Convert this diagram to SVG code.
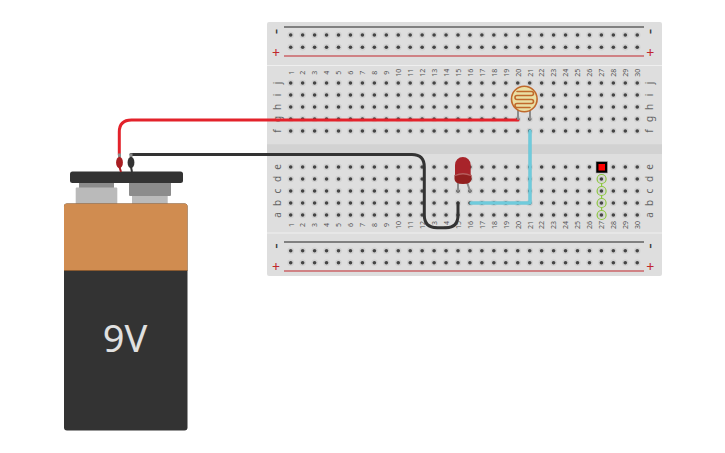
<svg xmlns="http://www.w3.org/2000/svg" width="725" height="453" viewBox="0 0 725 453">
<style>
text{font-family:"Noto Sans","DejaVu Sans",sans-serif}
.n{font-size:7px;fill:#555;text-anchor:middle}
.l{font-size:10px;fill:#666;text-anchor:middle}
.m{font-size:17px;fill:#333;text-anchor:middle}
.p{font-size:14px;fill:#c1272d;text-anchor:middle}
.w{fill:none;stroke-linecap:round;stroke-linejoin:round}
.g{fill:none;stroke:#8cc63f;stroke-width:1.2}
.leg{stroke:#8c8c8c;stroke-width:2;fill:none;stroke-linecap:round}
</style>
<defs>
<g id="h"><circle r="3.2" fill="#d0d0d0"/><circle r="1.8" fill="#444"/></g>
<g id="r">
<use href="#h" x="290.7"/><use href="#h" x="302.65"/><use href="#h" x="314.6"/><use href="#h" x="326.55"/><use href="#h" x="338.5"/><use href="#h" x="350.45"/><use href="#h" x="362.4"/><use href="#h" x="374.35"/><use href="#h" x="386.3"/><use href="#h" x="398.25"/><use href="#h" x="410.2"/><use href="#h" x="422.15"/><use href="#h" x="434.1"/><use href="#h" x="446.05"/><use href="#h" x="458"/><use href="#h" x="469.95"/><use href="#h" x="481.9"/><use href="#h" x="493.85"/><use href="#h" x="505.8"/><use href="#h" x="517.75"/><use href="#h" x="529.7"/><use href="#h" x="541.65"/><use href="#h" x="553.6"/><use href="#h" x="565.55"/><use href="#h" x="577.5"/><use href="#h" x="589.45"/><use href="#h" x="601.4"/><use href="#h" x="613.35"/><use href="#h" x="625.3"/><use href="#h" x="637.25"/>
</g>
</defs>
<rect width="725" height="453" fill="#fff"/>
<g id="breadboard">
<rect x="267" y="22" width="395" height="254" rx="2" fill="#dedede"/>
<rect x="267" y="65" width="395" height="1" fill="#efefef"/>
<rect x="267" y="232.500" width="395" height="1" fill="#efefef"/>
<rect x="267" y="144.300" width="395" height="9.700" fill="#d2d2d2"/>
<path d="M284 27H644M284 242H644" stroke="#222" stroke-width="1" fill="none"/>
<path d="M284 56H644M284 271H644" stroke="#c1272d" stroke-width="1" fill="none"/>
<use href="#r" y="35"/><use href="#r" y="47.3"/>
<use href="#r" y="83"/><use href="#r" y="95"/><use href="#r" y="107"/><use href="#r" y="119"/><use href="#r" y="131"/>
<use href="#r" y="167"/><use href="#r" y="179"/><use href="#r" y="191"/><use href="#r" y="203"/><use href="#r" y="215"/>
<use href="#r" y="250.7"/><use href="#r" y="262.7"/>
<text class="m" transform="translate(280.500,31.500) rotate(-90)">-</text>
<text class="m" transform="translate(654.800,31.500) rotate(-90)">-</text>
<text class="m" transform="translate(280.500,246) rotate(-90)">-</text>
<text class="m" transform="translate(654.800,246) rotate(-90)">-</text>
<text class="p" x="276" y="57.500">+</text><text class="p" x="650.300" y="57.500">+</text>
<text class="p" x="276" y="271.500">+</text><text class="p" x="650.300" y="271.500">+</text>
<g id="letters">
<text class="l" transform="translate(280.700,83) rotate(-90)">j</text><text class="l" transform="translate(280.700,95) rotate(-90)">i</text><text class="l" transform="translate(280.700,107) rotate(-90)">h</text><text class="l" transform="translate(280.700,119) rotate(-90)">g</text><text class="l" transform="translate(280.700,131) rotate(-90)">f</text>
<text class="l" transform="translate(280.700,167) rotate(-90)">e</text><text class="l" transform="translate(280.700,179) rotate(-90)">d</text><text class="l" transform="translate(280.700,191) rotate(-90)">c</text><text class="l" transform="translate(280.700,203) rotate(-90)">b</text><text class="l" transform="translate(280.700,215) rotate(-90)">a</text>
<text class="l" transform="translate(653,83) rotate(-90)">j</text><text class="l" transform="translate(653,95) rotate(-90)">i</text><text class="l" transform="translate(653,107) rotate(-90)">h</text><text class="l" transform="translate(653,119) rotate(-90)">g</text><text class="l" transform="translate(653,131) rotate(-90)">f</text>
<text class="l" transform="translate(653,167) rotate(-90)">e</text><text class="l" transform="translate(653,179) rotate(-90)">d</text><text class="l" transform="translate(653,191) rotate(-90)">c</text><text class="l" transform="translate(653,203) rotate(-90)">b</text><text class="l" transform="translate(653,215) rotate(-90)">a</text>
</g>
<g id="numbers-top" transform="translate(0.800,0.800)">
<text class="n" transform="translate(292.7,72) rotate(-90)">1</text><text class="n" transform="translate(304.65,72) rotate(-90)">2</text><text class="n" transform="translate(316.6,72) rotate(-90)">3</text><text class="n" transform="translate(328.55,72) rotate(-90)">4</text><text class="n" transform="translate(340.5,72) rotate(-90)">5</text><text class="n" transform="translate(352.45,72) rotate(-90)">6</text><text class="n" transform="translate(364.4,72) rotate(-90)">7</text><text class="n" transform="translate(376.35,72) rotate(-90)">8</text><text class="n" transform="translate(388.3,72) rotate(-90)">9</text><text class="n" transform="translate(400.25,72) rotate(-90)">10</text><text class="n" transform="translate(412.2,72) rotate(-90)">11</text><text class="n" transform="translate(424.15,72) rotate(-90)">12</text><text class="n" transform="translate(436.1,72) rotate(-90)">13</text><text class="n" transform="translate(448.05,72) rotate(-90)">14</text><text class="n" transform="translate(460,72) rotate(-90)">15</text><text class="n" transform="translate(471.95,72) rotate(-90)">16</text><text class="n" transform="translate(483.9,72) rotate(-90)">17</text><text class="n" transform="translate(495.85,72) rotate(-90)">18</text><text class="n" transform="translate(507.8,72) rotate(-90)">19</text><text class="n" transform="translate(519.75,72) rotate(-90)">20</text><text class="n" transform="translate(531.7,72) rotate(-90)">21</text><text class="n" transform="translate(543.65,72) rotate(-90)">22</text><text class="n" transform="translate(555.6,72) rotate(-90)">23</text><text class="n" transform="translate(567.55,72) rotate(-90)">24</text><text class="n" transform="translate(579.5,72) rotate(-90)">25</text><text class="n" transform="translate(591.45,72) rotate(-90)">26</text><text class="n" transform="translate(603.4,72) rotate(-90)">27</text><text class="n" transform="translate(615.35,72) rotate(-90)">28</text><text class="n" transform="translate(627.3,72) rotate(-90)">29</text><text class="n" transform="translate(639.25,72) rotate(-90)">30</text>
</g>
<g id="numbers-bottom" transform="translate(0.800,0)">
<text class="n" transform="translate(292.7,225) rotate(-90)">1</text><text class="n" transform="translate(304.65,225) rotate(-90)">2</text><text class="n" transform="translate(316.6,225) rotate(-90)">3</text><text class="n" transform="translate(328.55,225) rotate(-90)">4</text><text class="n" transform="translate(340.5,225) rotate(-90)">5</text><text class="n" transform="translate(352.45,225) rotate(-90)">6</text><text class="n" transform="translate(364.4,225) rotate(-90)">7</text><text class="n" transform="translate(376.35,225) rotate(-90)">8</text><text class="n" transform="translate(388.3,225) rotate(-90)">9</text><text class="n" transform="translate(400.25,225) rotate(-90)">10</text><text class="n" transform="translate(412.2,225) rotate(-90)">11</text><text class="n" transform="translate(424.15,225) rotate(-90)">12</text><text class="n" transform="translate(436.1,225) rotate(-90)">13</text><text class="n" transform="translate(448.05,225) rotate(-90)">14</text><text class="n" transform="translate(460,225) rotate(-90)">15</text><text class="n" transform="translate(471.95,225) rotate(-90)">16</text><text class="n" transform="translate(483.9,225) rotate(-90)">17</text><text class="n" transform="translate(495.85,225) rotate(-90)">18</text><text class="n" transform="translate(507.8,225) rotate(-90)">19</text><text class="n" transform="translate(519.75,225) rotate(-90)">20</text><text class="n" transform="translate(531.7,225) rotate(-90)">21</text><text class="n" transform="translate(543.65,225) rotate(-90)">22</text><text class="n" transform="translate(555.6,225) rotate(-90)">23</text><text class="n" transform="translate(567.55,225) rotate(-90)">24</text><text class="n" transform="translate(579.5,225) rotate(-90)">25</text><text class="n" transform="translate(591.45,225) rotate(-90)">26</text><text class="n" transform="translate(603.4,225) rotate(-90)">27</text><text class="n" transform="translate(615.35,225) rotate(-90)">28</text><text class="n" transform="translate(627.3,225) rotate(-90)">29</text><text class="n" transform="translate(639.25,225) rotate(-90)">30</text>
</g>
</g>
<g id="battery">
<rect x="79" y="183" width="35" height="6" fill="#8c8c8c"/>
<rect x="75.700" y="187.500" width="41.600" height="18" rx="1" fill="#bababa"/>
<rect x="132" y="194" width="35.700" height="11" fill="#bababa"/>
<rect x="129" y="182" width="42" height="14" rx="1" fill="#8c8c8c"/>
<rect x="64" y="203.500" width="123.500" height="227" rx="3" fill="#333"/>
<path d="M64 270V206.500a3 3 0 0 1 3-3H184.500a3 3 0 0 1 3 3V270Z" fill="#d08c50"/>
<rect x="64" y="270" width="123.500" height="1" fill="#8a5a30"/>
<rect x="70" y="171.500" width="113" height="11.500" rx="2.500" fill="#333"/>
<text x="125" y="352" font-size="38" fill="#e0e0e0" text-anchor="middle">9V</text>
</g>
<g id="connectors">
<path class="w" d="M530 131V203H471" stroke="#4fb3c8" stroke-width="3.600" opacity=".5"/>
<path class="w" d="M530 131V203H471" stroke="#6fcbdc" stroke-width="3"/>
<path class="w" d="M131 154.500H412Q424.300 154.500 424.300 167V215Q424.300 227.700 437 227.700H446Q458 227.700 458 215V203" stroke="#333" stroke-width="3"/>
<path class="w" d="M119.300 155V132Q119.300 120 131.500 120H518" stroke="#e3222b" stroke-width="3"/>
</g>
<g id="clip-red">
<path d="M119.500 167L121 172" stroke="#a81e22" stroke-width="2" fill="none"/>
<rect x="118" y="153.500" width="3" height="3.500" fill="#8c8c8c"/>
<ellipse cx="119.500" cy="162.500" rx="3.400" ry="5.700" fill="#a81e22"/>
</g>
<g id="clip-black">
<path d="M131 167L132 172" stroke="#333" stroke-width="2" fill="none"/>
<rect x="129.500" y="153.500" width="3" height="3.500" fill="#8c8c8c"/>
<ellipse cx="131" cy="162.500" rx="3.400" ry="5.700" fill="#333"/>
</g>
<g id="ldr">
<path class="leg" d="M518 110V119M530 110V119"/>
<circle cx="524.300" cy="99" r="12.800" fill="#eadfa4" stroke="#c0692c" stroke-width="1.600"/>
<path d="M517 91.500H531.500A2 2 0 0 1 531.500 95.500H517A2 2 0 0 0 517 99.500H531.500A2 2 0 0 1 531.500 103.500H517A2 2 0 0 0 517 107.500H530" fill="none" stroke="#c0692c" stroke-width="1.600" stroke-linecap="round" stroke-linejoin="round"/>
</g>
<g id="led">
<path class="leg" d="M458 182V191M467 182L470 191"/>
<path d="M455 175V165A7.800 8 0 0 1 470.700 165V175Z" fill="#a8242a"/>
<path d="M454.500 175Q463 171 471.500 175V179Q471.500 184 463 184Q454.500 184 454.500 179Z" fill="#92201f"/>
<path d="M455 175.500Q463 172 471 175.500" fill="none" stroke="#c87878" stroke-width="1.300" opacity=".7"/>
</g>
<g id="selection">
<path d="M601.600 183.500V186.500M601.600 195.500V198.500M601.600 207.500V210.500" stroke="#8cc63f" stroke-width="1.200" fill="none"/>
<circle class="g" cx="601.600" cy="179" r="4.500"/><circle class="g" cx="601.600" cy="191" r="4.500"/><circle class="g" cx="601.600" cy="203" r="4.500"/><circle class="g" cx="601.600" cy="215" r="4.500"/>
<rect x="596" y="161.500" width="11.500" height="11.500" fill="#000" stroke="#aaa" stroke-width=".6"/>
<rect x="598.500" y="164" width="6.500" height="6.500" fill="#f00"/>
</g>
</svg>
